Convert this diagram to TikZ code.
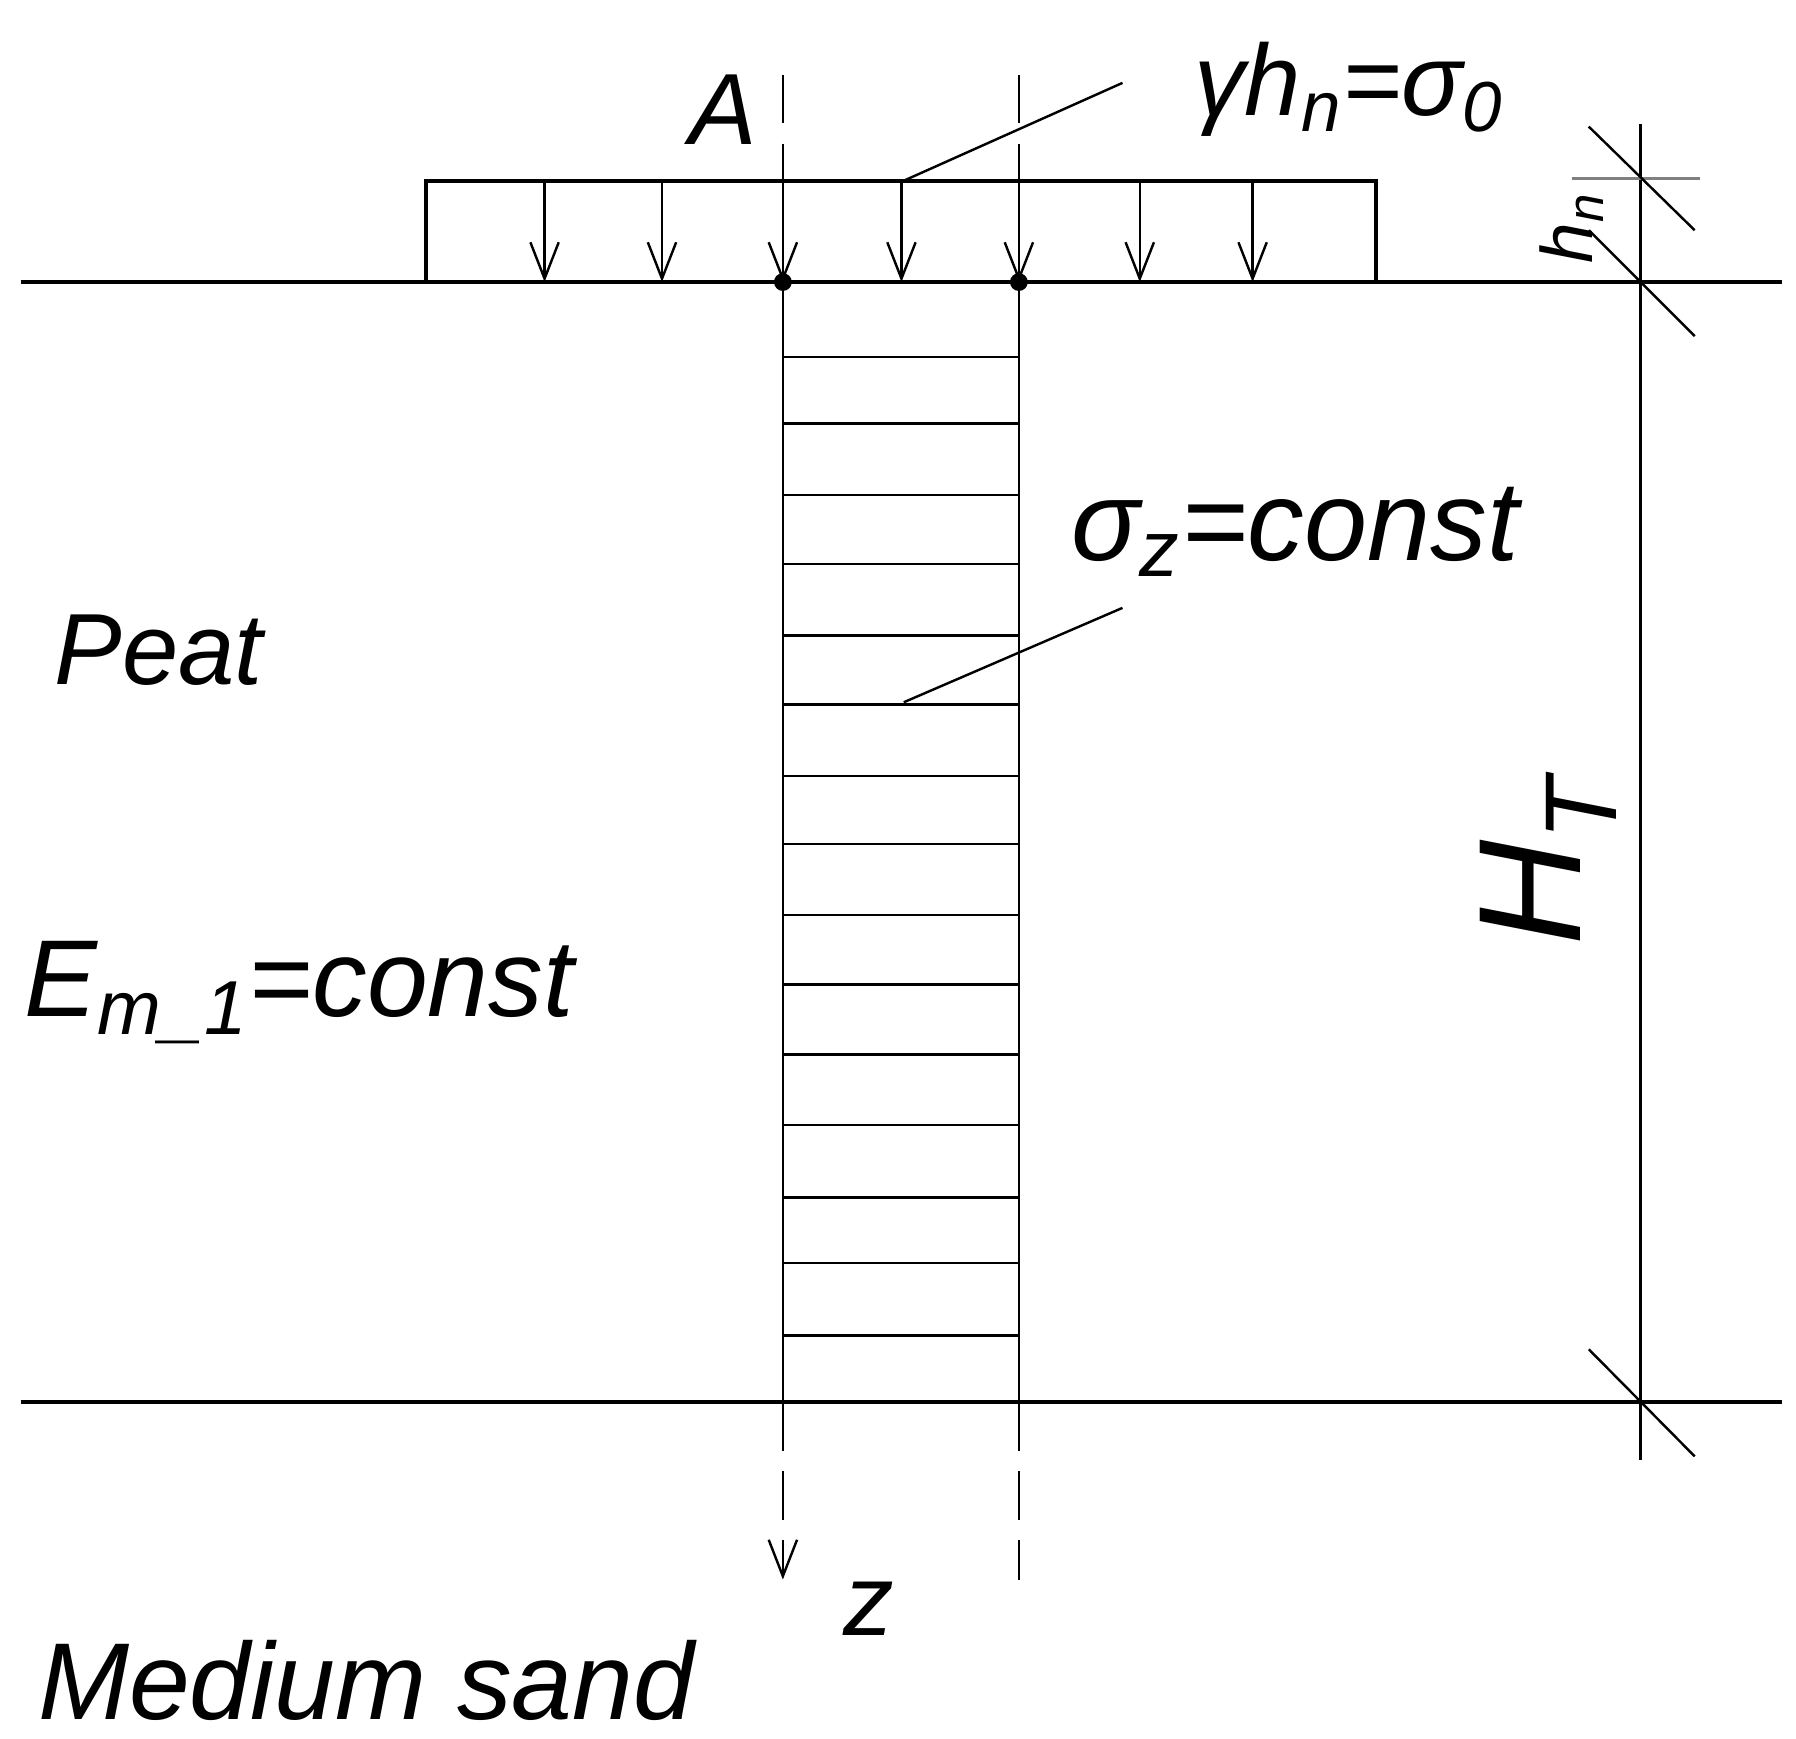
\documentclass[tikz,border=0pt]{standalone}
\usepackage{fontspec}
\setmainfont{Liberation Sans}
\usetikzlibrary{arrows.meta}
\begin{document}
\begin{tikzpicture}[x=0.01cm,y=-0.01cm,
  ln/.style={line width=1.1pt},
  thin/.style={line width=0.6pt},
  dsh/.style={line width=0.6pt,dash pattern=on 12pt off 5pt},
  lbl/.style={font=\itshape\fontsize{25}{28}\selectfont,inner sep=0pt},
  ld/.style={thin,-{Straight Barb[length=9pt,width=7pt]}}]
\useasboundingbox (0,0) rectangle (1560,1510);
\draw[ln] (18,245) -- (1548,245);
\draw[ln] (18,1218) -- (1548,1218);
\draw[ln] (370,245) -- (370,157) -- (1195,157) -- (1195,245);
\foreach \x/\n in {473/a,575/b,680/c,783/d,885/e,990/f,1088/g} {
  \coordinate (t\n) at (\x,157); \coordinate (b\n) at (\x,245);
  \draw[ld] (t\n) -- (b\n);}
\fill (680,245) circle (2.2pt); \fill (885,245) circle (2.2pt);
\draw[dsh] (680,65) -- (680,245); \draw[dsh] (885,65) -- (885,245);
\draw[thin] (680,245) -- (680,1218); \draw[thin] (885,245) -- (885,1218);
\draw[dsh] (885,1218) -- (885,1372);
\draw[dsh,-{Straight Barb[length=9pt,width=7pt]}] (680,1218) -- (680,1372);
\foreach \y in {310,368,430,490,552,612,674,733,795,855,916,977,1040,1097,1160}
  \draw[thin] (680,\y) -- (885,\y);
\draw[thin] (785,157) -- (975,72);
\draw[thin] (785,610) -- (975,528);
\node[lbl] (s0) at (1172,78) {γh\textsubscript{n}=σ\textsubscript{0}};
\node[lbl,font=\itshape\fontsize{28}{32}\selectfont] (sz) at (1125,462) {σ\textsubscript{z}=const};
\node[lbl] (A) at (628,95) {A};
\node[lbl] (peat) at (138,565) {Peat};
\node[lbl,font=\itshape\fontsize{27}{30}\selectfont] (em) at (260,862) {E\textsubscript{m\_1}=const};
\node[lbl,font=\itshape\fontsize{27}{30}\selectfont] (ms) at (318,1460) {Medium sand};
\node[lbl] (z) at (755,1397) {z};
\draw[thin] (1425,108) -- (1425,1268);
\draw[thin,gray] (1365,155) -- (1477,155);
\draw[thin] (1380,110) -- (1472,200);
\draw[thin] (1380,200) -- (1472,292);
\draw[thin] (1380,1172) -- (1472,1265);
\node[lbl,rotate=90,font=\itshape\fontsize{18}{20}\selectfont] (hn) at (1365,198) {h\textsubscript{n}};
\node[lbl,rotate=90,font=\itshape\fontsize{36}{40}\selectfont] (HT) at (1345,748) {H\textsubscript{T}};
\end{tikzpicture}
\end{document}
